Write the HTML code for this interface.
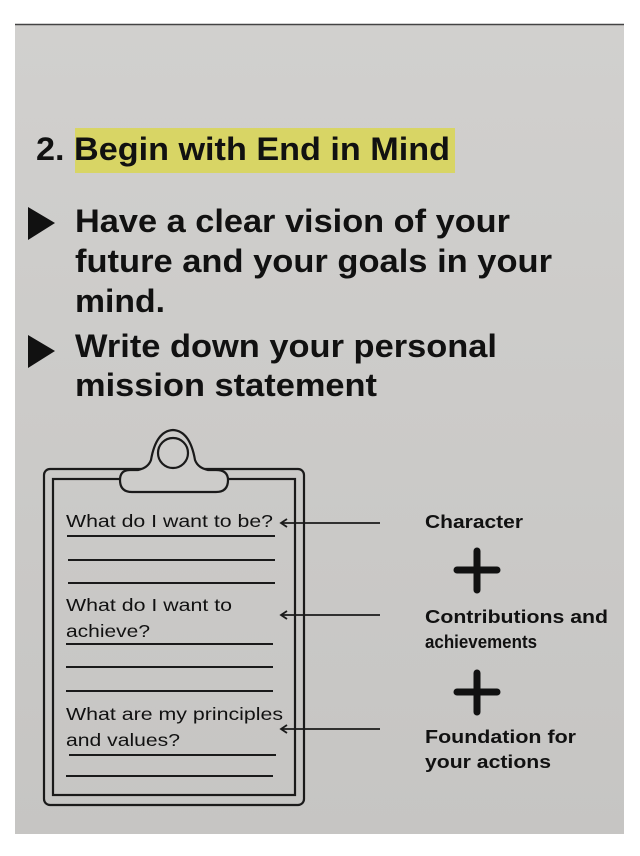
<!DOCTYPE html>
<html><head><meta charset="utf-8"><style>
html,body{margin:0;padding:0;background:#fff;}
svg{display:block;}
text{font-family:"Liberation Sans",Arial,sans-serif;fill:#111;}
</style></head><body>
<svg width="640" height="856" viewBox="0 0 640 856" xmlns="http://www.w3.org/2000/svg">
<defs><linearGradient id="pg" x1="0" y1="0" x2="0" y2="1"><stop offset="0" stop-color="#d1d0ce"/><stop offset="1" stop-color="#c6c5c3"/></linearGradient></defs>
<rect x="0" y="0" width="640" height="856" fill="#fff"/>
<rect x="15" y="25" width="609" height="809" fill="url(#pg)"/>
<line x1="15" y1="24.5" x2="624" y2="24.5" stroke="#444" stroke-width="1.5"/>
<rect x="75" y="128" width="380" height="45" fill="#d8d565"/>
<text x="36" y="160" font-size="32" font-weight="bold" textLength="414" lengthAdjust="spacingAndGlyphs">2. Begin with End in Mind</text>
<polygon points="28,207 55,223 28,240" fill="#111"/>
<polygon points="28,335 55,351 28,368" fill="#111"/>
<g font-size="32" font-weight="bold">
<text x="75" y="232" textLength="435" lengthAdjust="spacingAndGlyphs">Have a clear vision of your</text>
<text x="75" y="272" textLength="477" lengthAdjust="spacingAndGlyphs">future and your goals in your</text>
<text x="75" y="312" textLength="90" lengthAdjust="spacingAndGlyphs">mind.</text>
<text x="75" y="357" textLength="422" lengthAdjust="spacingAndGlyphs">Write down your personal</text>
<text x="75" y="396" textLength="302" lengthAdjust="spacingAndGlyphs">mission statement</text>
</g>
<g fill="none" stroke="#1a1a1a" stroke-width="2.2">
<rect x="44" y="469" width="260" height="336" rx="6"/>
<rect x="53" y="479" width="242" height="316"/>
<path d="M130,470 Q120,470 120,480 Q120,492 132,492 L216,492 Q228,492 228,480 Q228,470 216,470 L208,470 Q198,468 195,460 Q190,431 173,430 Q156,431 151,460 Q148,468 138,470 Z" fill="#cdccca"/>
<circle cx="173" cy="453" r="15"/>
</g>
<g stroke="#1a1a1a" stroke-width="2">
<line x1="67" y1="536" x2="275" y2="536"/>
<line x1="68" y1="560" x2="275" y2="560"/>
<line x1="68" y1="583" x2="275" y2="583"/>
<line x1="66" y1="644" x2="273" y2="644"/>
<line x1="66" y1="667" x2="273" y2="667"/>
<line x1="66" y1="691" x2="273" y2="691"/>
<line x1="69" y1="755" x2="276" y2="755"/>
<line x1="66" y1="776" x2="273" y2="776"/>
</g>
<g font-size="17.5">
<text x="66" y="527" textLength="207" lengthAdjust="spacingAndGlyphs">What do I want to be?</text>
<text x="66" y="611" textLength="166" lengthAdjust="spacingAndGlyphs">What do I want to</text>
<text x="66" y="637" textLength="84" lengthAdjust="spacingAndGlyphs">achieve?</text>
<text x="66" y="720" textLength="217" lengthAdjust="spacingAndGlyphs">What are my principles</text>
<text x="66" y="746" textLength="114" lengthAdjust="spacingAndGlyphs">and values?</text>
</g>
<g stroke="#1a1a1a" stroke-width="1.8" fill="none">
<line x1="281" y1="523" x2="380" y2="523"/><polyline points="287,519 281,523 287,527"/>
<line x1="281" y1="615" x2="380" y2="615"/><polyline points="287,611 281,615 287,619"/>
<line x1="281" y1="729" x2="380" y2="729"/><polyline points="287,725 281,729 287,733"/>
</g>
<g font-size="18.5" font-weight="bold">
<text x="425" y="528" textLength="98" lengthAdjust="spacingAndGlyphs">Character</text>
<text x="425" y="623" textLength="183" lengthAdjust="spacingAndGlyphs">Contributions and</text>
<text x="425" y="648" textLength="112" lengthAdjust="spacingAndGlyphs">achievements</text>
<text x="425" y="743" textLength="151" lengthAdjust="spacingAndGlyphs">Foundation for</text>
<text x="425" y="768" textLength="126" lengthAdjust="spacingAndGlyphs">your actions</text>
</g>
<g stroke="#111" stroke-width="7" stroke-linecap="round">
<line x1="457" y1="570" x2="497" y2="570"/><line x1="477" y1="551" x2="477" y2="590"/>
<line x1="457" y1="692" x2="497" y2="692"/><line x1="477" y1="673" x2="477" y2="712"/>
</g>
</svg>
</body></html>
